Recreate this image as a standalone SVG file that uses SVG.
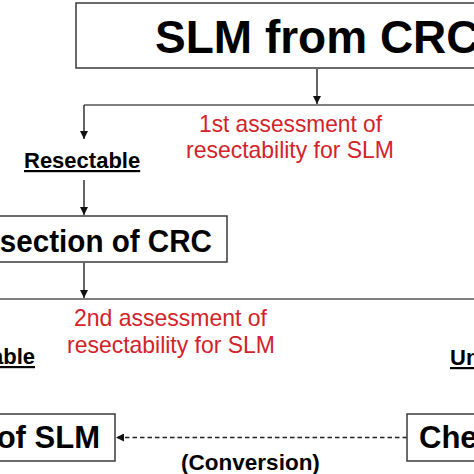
<svg xmlns="http://www.w3.org/2000/svg" width="474" height="474" viewBox="0 0 474 474">
<defs>
<marker id="ah" viewBox="0 0 10 10" refX="10" refY="5" markerWidth="8" markerHeight="8" markerUnits="userSpaceOnUse" orient="auto">
<path d="M0,0 L10,5 L0,10 z" fill="#111"/>
</marker>
</defs>
<style>
.box{fill:#fff;stroke:#3a3a3a;stroke-width:1.5}
.bt{font-family:"Liberation Sans",Arial,sans-serif;font-weight:bold;fill:#000}
.red{font-family:"Liberation Sans",Arial,sans-serif;fill:#d2232a;font-size:24px;text-anchor:middle}
.lab{font-family:"Liberation Sans",Arial,sans-serif;font-weight:bold;font-size:22px;fill:#000;text-decoration:underline}
.ln{stroke:#222;stroke-width:1.4;fill:none}
.hl{stroke:#555;stroke-width:1.4;fill:none}
</style>
<rect width="474" height="474" fill="#fff"/>
<g id="connectors">
<line class="ln" x1="317" y1="69" x2="317" y2="104" marker-end="url(#ah)"/>
<line class="hl" x1="84" y1="105" x2="480" y2="105"/>
<line class="ln" x1="84" y1="105" x2="84" y2="139" marker-end="url(#ah)"/>
<line class="ln" x1="84" y1="180" x2="84" y2="215" marker-end="url(#ah)"/>
<line class="ln" x1="84" y1="263" x2="84" y2="298" marker-end="url(#ah)"/>
<line class="hl" x1="-5" y1="299" x2="480" y2="299"/>
<line class="ln" x1="407" y1="437.5" x2="116" y2="437.5" stroke-dasharray="4.5,3" marker-end="url(#ah)"/>
</g>
<g id="node-slm">
<rect class="box" x="76" y="3" width="420" height="65"/>
<text class="bt" x="155" y="53" font-size="46">SLM from CRC</text>
</g>
<g id="label-1st">
<text class="red" x="290.5" y="132" textLength="183" lengthAdjust="spacingAndGlyphs">1st assessment of</text>
<text class="red" x="290" y="158" textLength="208" lengthAdjust="spacingAndGlyphs">resectability for SLM</text>
</g>
<g id="label-resectable">
<text class="lab" x="24" y="168">Resectable</text>
</g>
<g id="node-resection-crc">
<rect class="box" x="-90" y="216" width="317" height="46"/>
<text class="bt" x="212" y="252" font-size="32" text-anchor="end" textLength="250" lengthAdjust="spacingAndGlyphs">Resection of CRC</text>
</g>
<g id="label-2nd">
<text class="red" x="170.5" y="326" textLength="193" lengthAdjust="spacingAndGlyphs">2nd assessment of</text>
<text class="red" x="171" y="353" textLength="208" lengthAdjust="spacingAndGlyphs">resectability for SLM</text>
</g>
<g id="label-resectable2">
<text class="lab" x="35" y="364" text-anchor="end">Resectable</text>
</g>
<g id="label-unresectable">
<text class="lab" x="450" y="365">Unresectable</text>
</g>
<g id="node-resection-slm">
<rect class="box" x="-90" y="414" width="205" height="47"/>
<text class="bt" x="100" y="448" font-size="31" text-anchor="end">Resection of SLM</text>
</g>
<g id="node-chemo">
<rect class="box" x="407" y="414" width="200" height="47"/>
<text class="bt" x="419" y="448" font-size="31">Chemotherapy</text>
</g>
<g id="label-conversion">
<text class="bt" x="250.5" y="470" font-size="22.5" text-anchor="middle">(Conversion)</text>
</g>
</svg>
